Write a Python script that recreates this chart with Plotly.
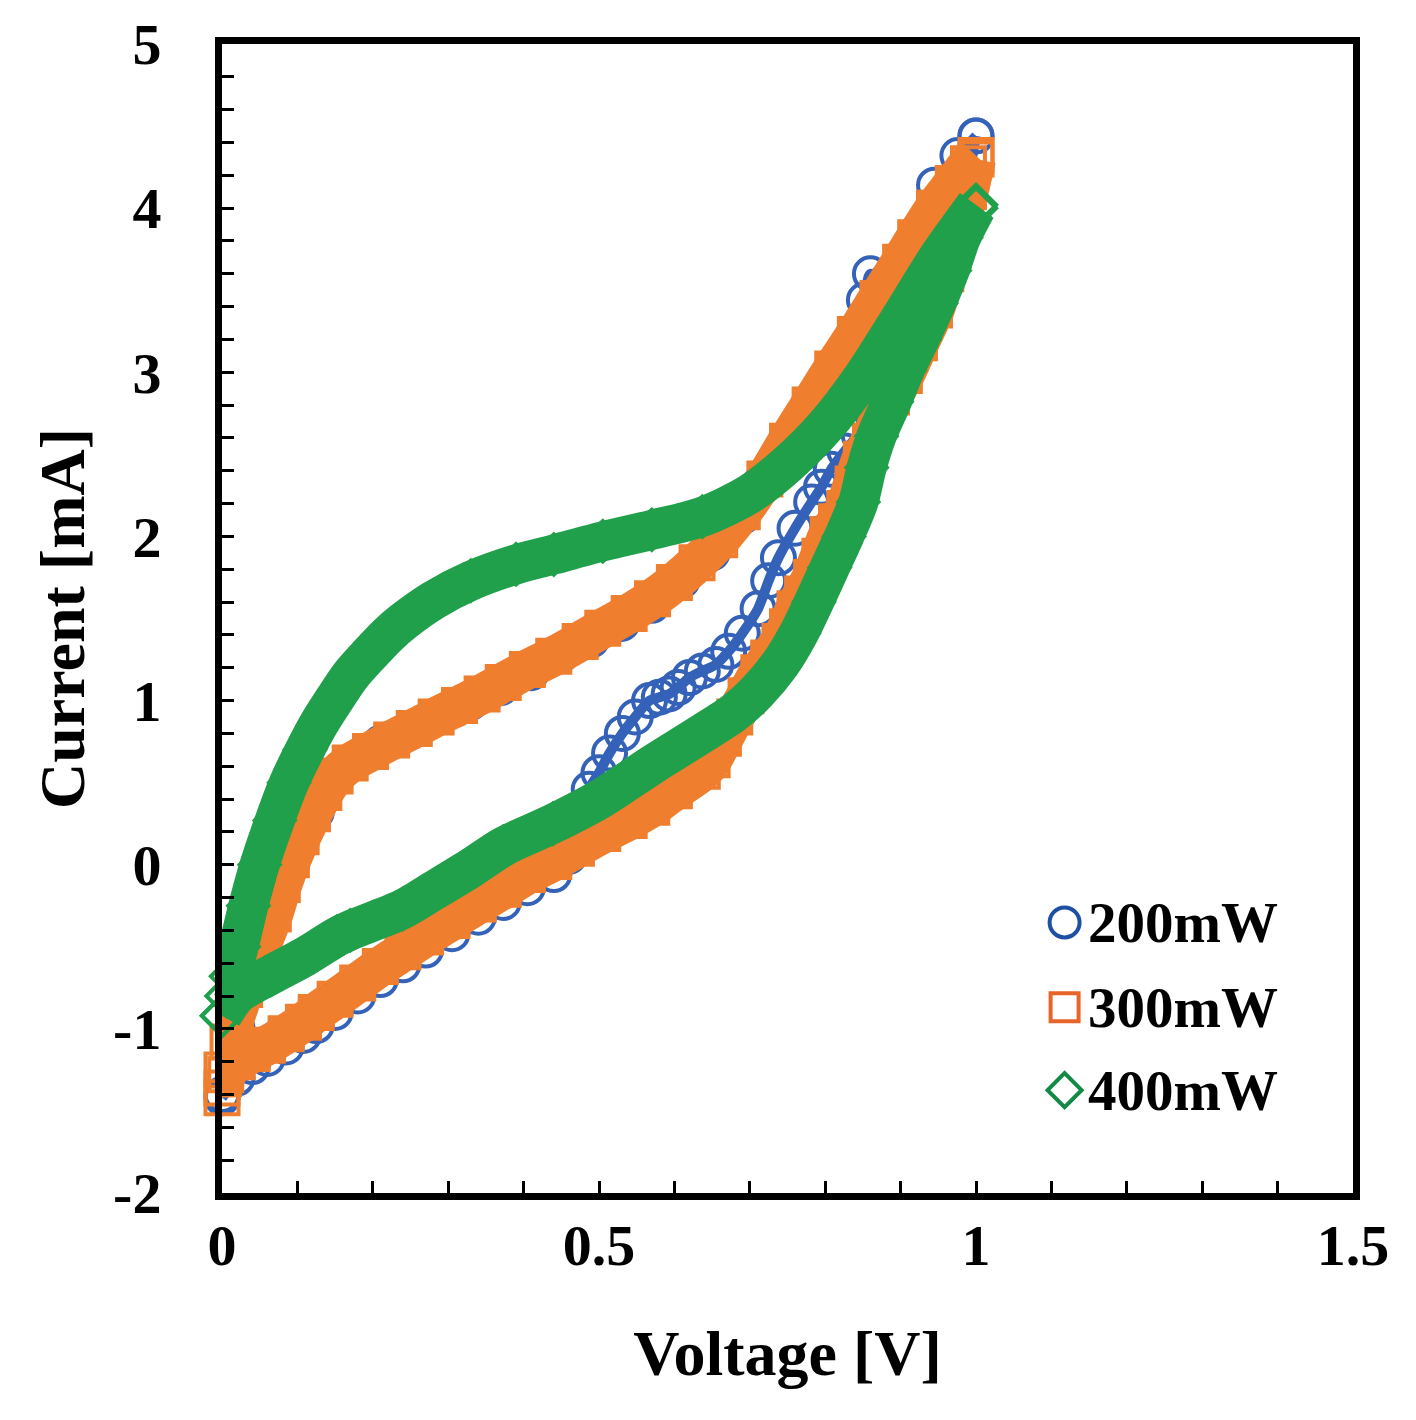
import plotly.graph_objects as go

# ---------------- data ----------------
series_names = ["200mW", "300mW", "400mW"]

# 200 mW (blue circles)
v200_up = [0.0, 0.02, 0.04, 0.06, 0.08, 0.10, 0.125, 0.15, 0.18, 0.21, 0.25, 0.29, 0.33, 0.37, 0.41,
           0.45, 0.49, 0.53, 0.57, 0.61, 0.65, 0.69, 0.73, 0.77, 0.80, 0.83, 0.852, 0.86, 0.88, 0.91,
           0.945, 0.976, 1.0]
i200_up = [-1.40, -1.0, -0.70, -0.40, -0.12, 0.10, 0.32, 0.52, 0.64, 0.74, 0.83, 0.91, 0.99, 1.08, 1.17,
           1.28, 1.37, 1.47, 1.58, 1.73, 1.90, 2.12, 2.36, 2.64, 2.90, 3.17, 3.44, 3.60, 3.55, 3.75,
           4.14, 4.32, 4.44]
v200_dn = [1.0, 0.99, 0.975, 0.96, 0.945, 0.925, 0.905, 0.885, 0.865, 0.845, 0.826, 0.808, 0.795, 0.782,
           0.76, 0.738, 0.725, 0.711, 0.69, 0.672, 0.655, 0.637, 0.62, 0.605, 0.593, 0.58, 0.567, 0.548,
           0.531, 0.514, 0.50, 0.487, 0.48, 0.47, 0.46, 0.44, 0.405, 0.373, 0.34, 0.305, 0.27, 0.24,
           0.21, 0.18, 0.15, 0.125, 0.108, 0.085, 0.06, 0.04, 0.02, 0.0]
i200_dn = [4.44, 4.20, 3.92, 3.68, 3.45, 3.22, 3.00, 2.80, 2.70, 2.62, 2.52, 2.41, 2.30, 2.21,
           2.05, 1.87, 1.73, 1.56, 1.41, 1.30, 1.22, 1.18, 1.14, 1.08, 1.04, 1.02, 1.00, 0.90,
           0.80, 0.68, 0.56, 0.46, 0.35, 0.20, 0.05, -0.06, -0.14, -0.23, -0.32, -0.42, -0.52, -0.61,
           -0.70, -0.80, -0.90, -0.98, -1.04, -1.11, -1.18, -1.23, -1.30, -1.42]

# 300 mW (orange squares)
v300_up = [0.0, 0.0, 0.008, 0.018, 0.03, 0.042, 0.055, 0.068, 0.08, 0.092, 0.105, 0.12, 0.135, 0.15,
           0.17, 0.197, 0.225, 0.255, 0.284, 0.315, 0.345, 0.373, 0.405, 0.44, 0.475, 0.505, 0.54,
           0.571, 0.60, 0.63, 0.66, 0.69, 0.72, 0.75, 0.78, 0.81, 0.84, 0.87, 0.90, 0.92, 0.945, 0.97,
           0.99, 1.0]
i300_up = [-1.42, -1.25, -1.08, -0.92, -0.76, -0.62, -0.46, -0.30, -0.12, 0.03, 0.17, 0.31, 0.44, 0.54,
           0.62, 0.69, 0.76, 0.83, 0.90, 0.97, 1.04, 1.11, 1.19, 1.27, 1.36, 1.44, 1.53,
           1.62, 1.72, 1.84, 1.98, 2.15, 2.35, 2.58, 2.80, 3.02, 3.23, 3.45, 3.67, 3.82, 4.00, 4.15,
           4.27, 4.32]
v300_dn = [1.0, 0.99, 0.975, 0.96, 0.945, 0.925, 0.905, 0.888, 0.871, 0.86, 0.848, 0.837, 0.826, 0.815,
           0.804, 0.793, 0.782, 0.77, 0.76, 0.75, 0.74, 0.725, 0.712, 0.695, 0.68, 0.665, 0.65, 0.637,
           0.60, 0.57, 0.54, 0.505, 0.47, 0.44, 0.405, 0.373, 0.34, 0.305, 0.27, 0.24, 0.21, 0.18,
           0.15, 0.125, 0.108, 0.085, 0.06, 0.04, 0.02, 0.005, 0.0]
i300_dn = [4.30, 4.10, 3.85, 3.60, 3.38, 3.18, 2.98, 2.85, 2.71, 2.58, 2.47, 2.32, 2.17, 2.09,
           2.01, 1.88, 1.75, 1.65, 1.56, 1.45, 1.36, 1.26, 1.17, 1.03, 0.90, 0.77, 0.64, 0.57,
           0.45, 0.35, 0.27, 0.19, 0.10, 0.02, -0.06, -0.15, -0.24, -0.34, -0.44, -0.53, -0.62, -0.72,
           -0.82, -0.90, -0.96, -1.03, -1.10, -1.15, -1.20, -1.28, -1.36]

# 400 mW (green diamonds)
v400_up = [0.0, 0.006, 0.012, 0.022, 0.035, 0.05, 0.07, 0.089, 0.11, 0.13, 0.148, 0.17, 0.195,
           0.22, 0.24, 0.28, 0.33, 0.39, 0.44, 0.505, 0.57, 0.637, 0.70, 0.75, 0.80, 0.85, 0.90,
           0.95, 1.0]
i400_up = [-0.92, -0.80, -0.68, -0.50, -0.25, 0.0, 0.27, 0.50, 0.70, 0.87, 1.00, 1.15, 1.28,
           1.40, 1.48, 1.61, 1.73, 1.83, 1.89, 1.97, 2.04, 2.12, 2.26, 2.44, 2.67, 2.97, 3.33,
           3.70, 4.02]
v400_dn = [1.0, 0.98, 0.965, 0.947, 0.925, 0.905, 0.888, 0.868, 0.855, 0.844, 0.825, 0.806, 0.785,
           0.765, 0.74, 0.709, 0.68, 0.637, 0.571, 0.505, 0.439, 0.373, 0.33, 0.28, 0.24, 0.17,
           0.152, 0.11, 0.065, 0.02, 0.0]
i400_dn = [4.00, 3.82, 3.62, 3.42, 3.20, 3.01, 2.82, 2.61, 2.42, 2.21, 2.00, 1.81, 1.60,
           1.41, 1.22, 1.05, 0.93, 0.80, 0.61, 0.41, 0.25, 0.11, -0.02, -0.16, -0.27, -0.40,
           -0.44, -0.56, -0.67, -0.79, -0.92]

x_tickvals = [0, 0.5, 1, 1.5]
x_ticktext = ["0", "0.5", "1", "1.5"]
y_tickvals = [-2, -1, 0, 1, 2, 3, 4, 5]
y_ticktext = ["-2", "-1", "0", "1", "2", "3", "4", "5"]

# ---------------- styling ----------------
FONT = "Liberation Serif"
colors = ["#3462b8", "#f07e2f", "#20a04b"]
legend_colors = ["#1f4fa3", "#e8652a", "#128a45"]
symbols = ["circle-open", "square-open", "diamond-open"]
msizes = [33, 33, 31]
band_w = [10, 40, 40]

branches = [
    [(v200_up, i200_up), (v200_dn, i200_dn)],
    [(v300_up, i300_up), (v300_dn, i300_dn)],
    [(v400_up, i400_up), (v400_dn, i400_dn)],
]

fig = go.Figure()
for k in range(3):
    for (vx, iy) in branches[k]:
        fig.add_trace(go.Scatter(
            x=vx, y=iy, mode="lines", showlegend=False, hoverinfo="skip", cliponaxis=False,
            line=dict(color=colors[k], width=band_w[k], shape="spline", smoothing=0.8),
        ))
        fig.add_trace(go.Scatter(
            x=vx, y=iy, mode="markers", name=series_names[k], showlegend=False, cliponaxis=False,
            marker=dict(symbol=symbols[k], size=msizes[k], color=colors[k],
                        line=dict(color=colors[k], width=4)),
        ))

# manual legend (large symbols like the reference)
leg_x = 0.745
leg_text_x = 0.764
leg_y = [0.2355, 0.1616, 0.0895]
W, H = 1131, 1151
r = 15
for k in range(3):
    if k == 0:
        fig.add_shape(type="circle", xref="paper", yref="paper",
                      x0=leg_x - r / W, x1=leg_x + r / W, y0=leg_y[k] - r / H, y1=leg_y[k] + r / H,
                      line=dict(color=legend_colors[k], width=4))
    elif k == 1:
        s = 14
        fig.add_shape(type="rect", xref="paper", yref="paper",
                      x0=leg_x - s / W, x1=leg_x + s / W, y0=leg_y[k] - s / H, y1=leg_y[k] + s / H,
                      line=dict(color=legend_colors[k], width=4))
    else:
        d = 17
        cx, cy = leg_x, leg_y[k]
        path = (f"M {cx - d / W},{cy} L {cx},{cy + d / H} L {cx + d / W},{cy} "
                f"L {cx},{cy - d / H} Z")
        fig.add_shape(type="path", xref="paper", yref="paper", path=path,
                      line=dict(color=legend_colors[k], width=4))
    fig.add_annotation(xref="paper", yref="paper", x=leg_text_x, y=leg_y[k],
                       xanchor="left", yanchor="middle", showarrow=False,
                       text=f"<b>{series_names[k]}</b>",
                       font=dict(family=FONT, size=57, color="black"))

axis_common = dict(
    showgrid=False, zeroline=False, showline=True, linecolor="black", linewidth=7,
    mirror=True, ticks="inside", ticklen=12, tickwidth=3, tickcolor="black",
    tickfont=dict(family=FONT, size=58, color="black"),
)

fig.update_xaxes(
    range=[0, 1.5], tickvals=x_tickvals, ticktext=[f"<b>{t}</b>" for t in x_ticktext],
    minor=dict(dtick=0.1, ticks="inside", ticklen=12, tickwidth=3, tickcolor="black"),
    title=dict(text="<b>Voltage [V]</b>", font=dict(family=FONT, size=64, color="black"), standoff=56),
    ticklabelstandoff=-5,
    **axis_common,
)
fig.update_yaxes(
    range=[-2, 5], tickvals=y_tickvals, ticktext=[f"<b>{t}</b>" for t in y_ticktext],
    minor=dict(dtick=0.2, ticks="inside", ticklen=12, tickwidth=3, tickcolor="black"),
    title=dict(text="<b>Current [mA]</b>", font=dict(family=FONT, size=64, color="black"), standoff=10),
    ticklabelstandoff=42,
    **axis_common,
)
fig.update_layout(
    width=1416, height=1420,
    margin=dict(l=222, r=63, t=42, b=227),
    paper_bgcolor="white", plot_bgcolor="white",
    font=dict(family=FONT, color="black"),
    showlegend=False,
)
fig.write_html("out.html")
